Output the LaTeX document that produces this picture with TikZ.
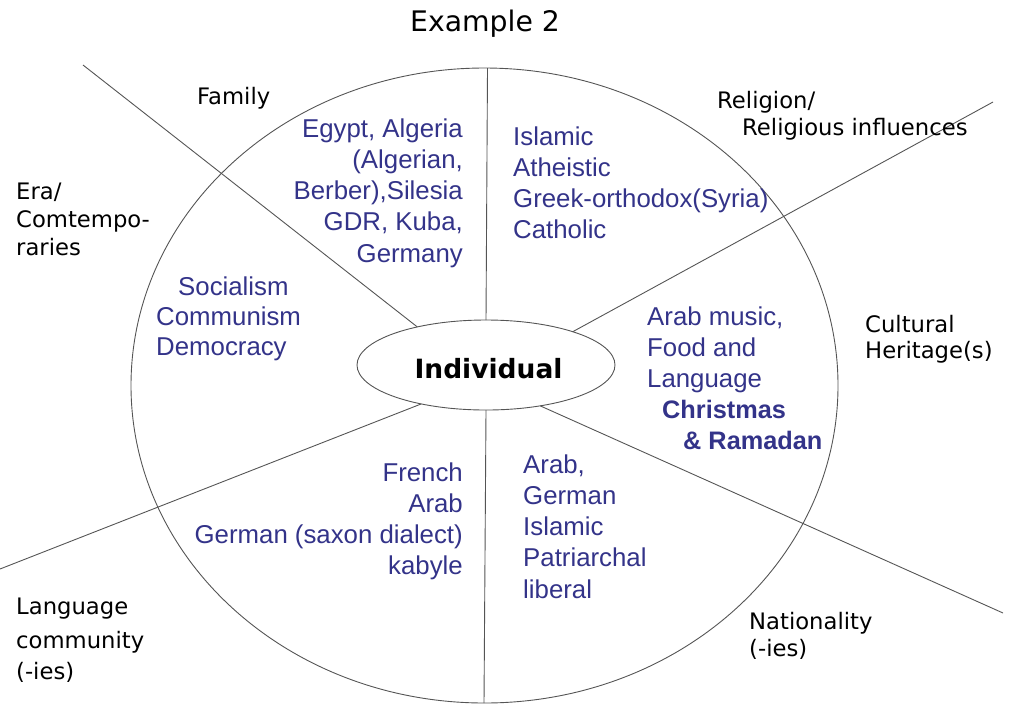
\documentclass[tikz,border=0pt]{standalone}
\usepackage{fontspec}
\usetikzlibrary{shapes.geometric}
\newfontfamily\labfont{DejaVu Sans}
\newfontfamily\blufont{Liberation Sans}
\definecolor{txtblue}{RGB}{51,51,137}
\definecolor{linegray}{RGB}{85,85,85}
\begin{document}
\begin{tikzpicture}[x=1pt,y=-1pt,
  lab/.style={font=\labfont\fontsize{22.7pt}{27pt}\selectfont, inner sep=0pt, text=black},
  blu/.style={font=\blufont\fontsize{25.8pt}{30pt}\selectfont, inner sep=0pt, text=txtblue},
  blub/.style={font=\blufont\bfseries\fontsize{25.3pt}{30pt}\selectfont, inner sep=0pt, text=txtblue},
  spoke/.style={draw=linegray, line width=0.9pt},
  oval/.style={ellipse, draw=linegray, line width=0.9pt, inner sep=0pt, outer sep=0pt}]
\useasboundingbox (0,0) rectangle (1024,716);
% title
\node[font=\labfont\fontsize{28.3pt}{32pt}\selectfont, inner sep=0pt, anchor=base] (title) at (485,31) {Example 2};
% ellipses
\node[oval, minimum width=707pt, minimum height=635pt] (outer) at (484.5,385.5) {};
\node[oval, minimum width=258pt, minimum height=90pt] (ind) at (486,365) {};
\node[font=\labfont\bfseries\fontsize{26.5pt}{30pt}\selectfont, inner sep=0pt, anchor=base] (indtxt) at (488.5,378) {Individual};
% spokes
\coordinate (t1) at (487.5,68);
\coordinate (ul) at (83,65);
\coordinate (ur) at (993,102);
\coordinate (ll) at (0,569);
\coordinate (lr) at (1003,613);
\coordinate (b1) at (484,703);
\draw[spoke] (ind.north) -- (t1);
\draw[spoke] (ind.151) -- (ul);
\draw[spoke] (ind.21) -- (ur);
\draw[spoke] (ind.211) -- (ll);
\draw[spoke] (ind.323) -- (lr);
\draw[spoke] (ind.south) -- (b1);
% black labels
\node[lab, anchor=base west] (fam) at (197,104) {Family};
\node[lab, anchor=base west] (era1) at (16,199) {Era/};
\node[lab, anchor=base west] (era2) at (16,227) {Comtempo-};
\node[lab, anchor=base west] (era3) at (16,255) {raries};
\node[lab, anchor=base west] (rel1) at (717,108) {Religion/};
\node[lab, anchor=base west] (rel2) at (742,135) {Religious influences};
\node[lab, anchor=base west] (cul1) at (865,332) {Cultural};
\node[lab, anchor=base west] (cul2) at (865,358) {Heritage(s)};
\node[lab, anchor=base west] (nat1) at (749,629) {Nationality};
\node[lab, anchor=base west] (nat2) at (749,656) {(-ies)};
\node[lab, anchor=base west] (lan1) at (16,614) {Language};
\node[lab, anchor=base west] (lan2) at (16,648) {community};
\node[lab, anchor=base west] (lan3) at (16,679) {(-ies)};
% family contents
\node[blu, anchor=base east] (f1) at (463,137) {Egypt, Algeria};
\node[blu, anchor=base east] (f2) at (463,168) {(Algerian,};
\node[blu, anchor=base east] (f3) at (463,199) {Berber),Silesia};
\node[blu, anchor=base east] (f4) at (463,230) {GDR, Kuba,};
\node[blu, anchor=base east] (f5) at (463,262) {Germany};
% religion contents
\node[blu, anchor=base west] (r1) at (513,145) {Islamic};
\node[blu, anchor=base west] (r2) at (513,176) {Atheistic};
\node[blu, anchor=base west] (r3) at (513,207) {Greek-orthodox(Syria)};
\node[blu, anchor=base west] (r4) at (513,238) {Catholic};
% era contents
\node[blu, anchor=base west] (e1) at (178,295) {Socialism};
\node[blu, anchor=base west] (e2) at (156,325.5) {Communism};
\node[blu, anchor=base west] (e3) at (156,355) {Democracy};
% cultural contents
\node[blu, anchor=base west] (c1) at (647,325) {Arab music,};
\node[blu, anchor=base west] (c2) at (647,356) {Food and};
\node[blu, anchor=base west] (c3) at (647,387) {Language};
\node[blub, anchor=base west] (c4) at (662,418) {Christmas};
\node[blub, anchor=base west] (c5) at (683,449) {\& Ramadan};
% language contents
\node[blu, anchor=base east] (l1) at (463,481) {French};
\node[blu, anchor=base east] (l2) at (463,512) {Arab};
\node[blu, anchor=base east] (l3) at (463,543) {German (saxon dialect)};
\node[blu, anchor=base east] (l4) at (463,574) {kabyle};
% nationality contents
\node[blu, anchor=base west] (n1) at (523,473) {Arab,};
\node[blu, anchor=base west] (n2) at (523,504) {German};
\node[blu, anchor=base west] (n3) at (523,535) {Islamic};
\node[blu, anchor=base west] (n4) at (523,566) {Patriarchal};
\node[blu, anchor=base west] (n5) at (523,598) {liberal};
\end{tikzpicture}
\end{document}
